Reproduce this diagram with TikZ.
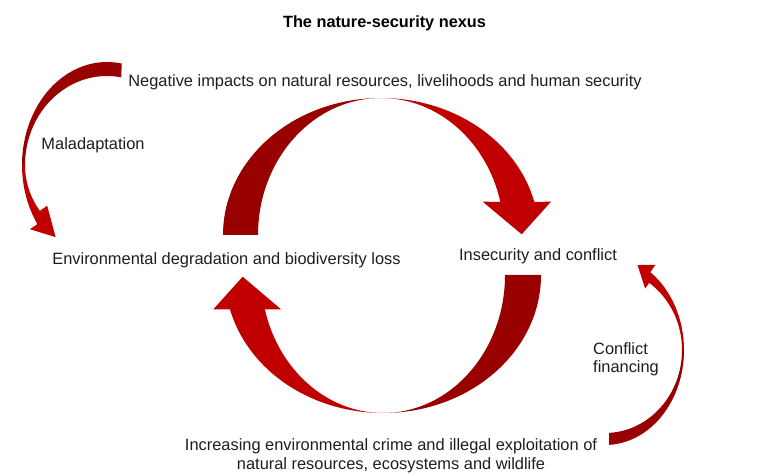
\documentclass[tikz,border=0pt]{standalone}
\usepackage{fontspec}
\setmainfont{Liberation Sans}
\usetikzlibrary{calc}
\definecolor{backred}{RGB}{153,0,0}
\definecolor{frontred}{RGB}{192,0,0}
\definecolor{textgray}{RGB}{30,30,30}
\tikzstyle{txt}=[font=\fontsize{16.4}{18.5}\selectfont, text=textgray, inner sep=0pt, anchor=base]
\tikzstyle{head}=[txt, font=\bfseries\fontsize{16.3}{18}\selectfont, text=black]
\tikzstyle{back}=[fill=backred]
\tikzstyle{front}=[fill=frontred]

\begin{document}
\begin{tikzpicture}[x=1pt,y=1pt]
  \fill[white] (0,0) rectangle (768,474);

  %% Centres of the curved arrows
  \coordinate (TC) at (381,239);
  \coordinate (BC) at (383,199);
  \coordinate (LC) at (107,309);
  \coordinate (RC) at (605,124);

  %% Upper big arrow
  \fill[back] ($(TC)+(180:158 and 137)$) arc[start angle=180, end angle=90, x radius=158, y radius=137]
    arc[start angle=90, end angle=180, x radius=123, y radius=137] -- cycle;
  \fill[front] ($(TC)+(90:158 and 137)$) arc[start angle=90, end angle=14, x radius=158, y radius=137]
    -- (551,272.3) -- (521.7,239.7) -- (482.7,272.3)
    -- ($(TC)+(14:123 and 137)$) arc[start angle=14, end angle=90, x radius=123, y radius=137] -- cycle;

  %% Lower big arrow
  \fill[back] ($(BC)+(0:158 and 138)$) arc[start angle=0, end angle=-90, x radius=158, y radius=138]
    arc[start angle=-90, end angle=0, x radius=122, y radius=138] -- cycle;
  \fill[front] ($(BC)+(270:158 and 138)$) arc[start angle=270, end angle=194.4, x radius=158, y radius=138]
    -- (213.3,164.7) -- (242.7,197.3) -- (281,164.7)
    -- ($(BC)+(194.4:122 and 138)$) arc[start angle=194.4, end angle=270, x radius=122, y radius=138] -- cycle;

  %% Maladaptation arrow
  \fill[back] ($(LC)+(80:85 and 103)$) arc[start angle=80, end angle=180, x radius=85, y radius=103]
    -- ($(LC)+(180:82 and 89)$) arc[start angle=180, end angle=80, x radius=82, y radius=89] -- cycle;
  \fill[front] ($(LC)+(180:85 and 103)$) arc[start angle=180, end angle=215, x radius=85, y radius=103]
    -- ($(LC)+(215:94 and 112)$) -- ($(LC)+(232:83.5 and 91.5)$) -- ($(LC)+(215:73 and 71)$)
    -- ($(LC)+(215:82 and 80)$) arc[start angle=215, end angle=180, x radius=82, y radius=80] -- cycle;

  %% Conflict financing arrow
  \fill[back] ($(RC)+(-87:79 and 95)$) arc[start angle=-87, end angle=0, x radius=79, y radius=95]
    -- ($(RC)+(0:77 and 83)$) arc[start angle=0, end angle=-87, x radius=77, y radius=83] -- cycle;
  \fill[front] ($(RC)+(0:79 and 95)$) arc[start angle=0, end angle=55, x radius=79, y radius=95]
    -- ($(RC)+(55:88 and 104)$) -- ($(RC)+(66:80 and 93)$) -- ($(RC)+(55:70 and 75)$)
    -- ($(RC)+(55:77 and 82)$) arc[start angle=55, end angle=0, x radius=77, y radius=82] -- cycle;

  %% Labels
  \draw (384.5,446) node[head] (title) {The nature-security nexus};
  \draw (385,387) node[txt] (impacts) {Negative impacts on natural resources, livelihoods and human security};
  \draw (93,324) node[txt] (malad) {Maladaptation};
  \draw (226.5,209) node[txt] (degrad) {Environmental degradation and biodiversity loss};
  \draw (538,213) node[txt] (insec) {Insecurity and conflict};
  \draw (593,101) node[txt,anchor=base west,align=left] (finance) {Conflict\\financing};
  \draw (391,5) node[txt,align=center] (crime) {Increasing environmental crime and illegal exploitation of\\natural resources, ecosystems and wildlife};
\end{tikzpicture}
\end{document}
